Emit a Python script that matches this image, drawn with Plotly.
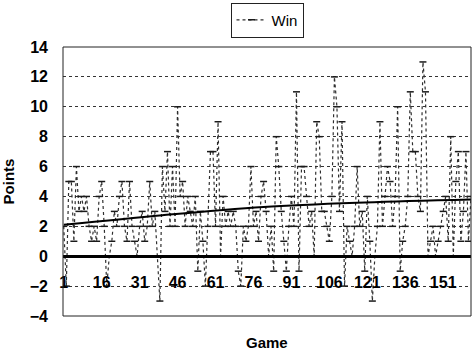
import plotly.graph_objects as go

games = list(range(1, 163))
win_points = [
    2, -2, 5, 5, 1, 6, 3, 4, 3, 4,
    2, 1, 2, 1, 4, 5, 2, -2, 0, 1,
    3, 2, 4, 5, 2, 1, 5, 2, 1, 0,
    2, 3, 1, 2, 5, 2, 3, 0, -3, 6,
    3, 7, 2, 6, 2, 10, 4, 5, 2, 4,
    3, 2, 4, -1, 3, 1, -2, 2, 7, 7,
    2, 9, 0, 4, 2, 3, 2, 3, 2, -1,
    -2, 2, 1, 2, 6, 2, 3, 1, 4, 5,
    3, 0, 2, -1, 8, 6, 3, 1, -1, 2,
    4, 2, 11, -1, 6, 6, 4, 2, 3, 0,
    9, 8, 3, 3, 2, 1, 4, 12, 10, 3,
    9, -2, 2, 1, 0, 2, 6, 2, 3, -1,
    4, 1, -3, 0, 2, 9, 2, 4, 6, 5,
    2, 4, 10, -1, 1, 2, 4, 11, 7, 7,
    4, 3, 13, 11, 0, 1, 2, 0, 1, 2,
    3, 4, 1, 8, 0, 5, 7, 1, 3, 7,
    1, 4,
]
trend_games = [1, 40, 80, 120, 162]
trend_values = [2.1, 2.75, 3.3, 3.6, 3.8]
x_tick_labels = [1, 16, 31, 46, 61, 76, 91, 106, 121, 136, 151]
y_ticks = [-4, -2, 0, 2, 4, 6, 8, 10, 12, 14]

FONT = "Liberation Sans"

fig = go.Figure()
fig.add_trace(go.Scatter(
    x=games, y=win_points, mode="lines+markers", name="Win",
    line=dict(color="#2e2e2e", width=1.2, dash="dot"),
    marker=dict(symbol="line-ew", size=5, line=dict(color="#1a1a1a", width=1.5)),
))
fig.add_trace(go.Scatter(
    x=trend_games, y=trend_values, mode="lines", showlegend=False,
    line=dict(color="black", width=2, shape="spline"),
))

fig.update_layout(
    width=474, height=353,
    margin=dict(l=63, r=3, t=47, b=37),
    paper_bgcolor="white", plot_bgcolor="white",
    font=dict(family=FONT, color="black"),
    showlegend=True,
    legend=dict(
        x=0.5, xanchor="center", y=1.165, yanchor="top",
        bordercolor="#222", borderwidth=1, bgcolor="white",
        font=dict(family=FONT, size=15, color="black"),
        itemwidth=30, tracegroupgap=0,
    ),
    xaxis=dict(
        range=[0.7, 162], anchor="free", position=4 / 18,
        tickmode="array", tickvals=x_tick_labels,
        ticktext=[str(v) for v in x_tick_labels],
        showline=True, linecolor="black", linewidth=2.5,
        showgrid=False, zeroline=False, ticks="",
        ticklabelstandoff=11,
        tickfont=dict(family=FONT, size=16, weight="bold"),
    ),
    yaxis=dict(
        range=[-4, 14], tickmode="array", tickvals=y_ticks,
        showgrid=True, gridcolor="#333", gridwidth=1, griddash="dot",
        zeroline=False, showline=False, ticks="",
        ticklabelstandoff=14,
        tickfont=dict(family=FONT, size=16, weight="bold"),
        title=dict(text="Points", font=dict(family=FONT, size=15, weight="bold"), standoff=12),
    ),
    shapes=[dict(type="rect", xref="paper", yref="paper", x0=0, y0=0, x1=1, y1=1,
                 line=dict(color="#222", width=1))],
    annotations=[dict(text="Game", x=0.5, y=-0.1, xref="paper", yref="paper",
                      xanchor="center", yanchor="middle", showarrow=False,
                      font=dict(family=FONT, size=15, weight="bold"))],
)

fig.write_html("out.html")
